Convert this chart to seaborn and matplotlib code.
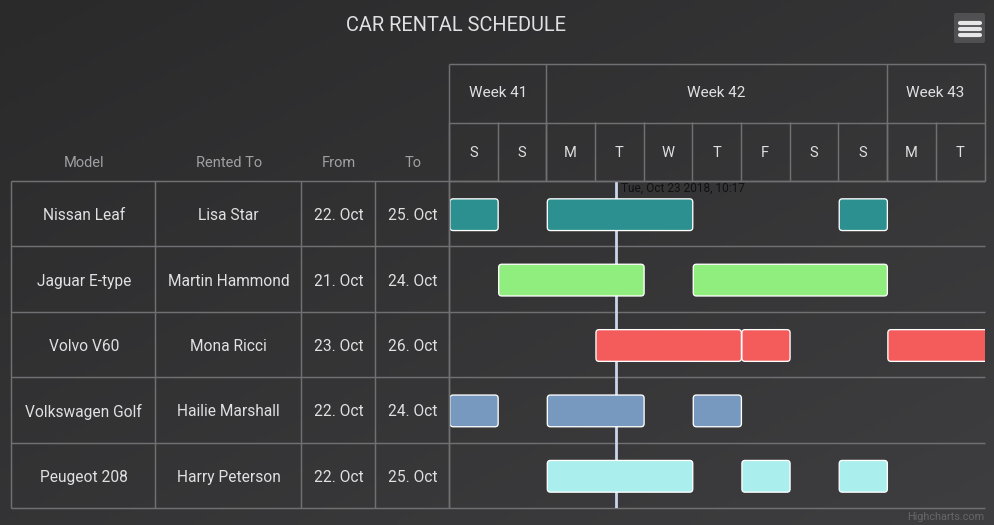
import numpy as np
import pandas as pd
import matplotlib
matplotlib.use("Agg")
import matplotlib.pyplot as plt
from matplotlib.patches import FancyBboxPatch, Rectangle
from matplotlib.colors import LinearSegmentedColormap
import seaborn as sns

models = ["Nissan Leaf", "Jaguar E-type", "Volvo V60", "Volkswagen Golf", "Peugeot 208"]
renters = ["Lisa Star", "Martin Hammond", "Mona Ricci", "Hailie Marshall", "Harry Peterson"]
from_dates = ["22. Oct", "21. Oct", "23. Oct", "22. Oct", "22. Oct"]
to_dates = ["25. Oct", "24. Oct", "26. Oct", "24. Oct", "25. Oct"]
colors = ["#2b908f", "#90ee7e", "#f45b5b", "#7798bf", "#aaeeee"]
headers = ["Model", "Rented To", "From", "To"]

task_row = [0, 0, 0, 1, 1, 2, 2, 2, 3, 3, 3, 4, 4, 4]
task_start = [20, 22, 28, 21, 25, 23, 26, 29, 20, 22, 25, 22, 26, 28]
task_end = [21, 25, 29, 24, 29, 26, 27, 32, 21, 24, 26, 25, 27, 29]

day_labels = ["S", "S", "M", "T", "W", "T", "F", "S", "S", "M", "T"]
week_labels = ["Week 41", "Week 42", "Week 43"]
week_edges = [20, 22, 29, 31]
today = 23 + (10 + 17 / 60) / 24
today_label = "Tue, Oct 23 2018, 10:17"

W, H = 995, 525
FONT = ["Roboto", "DejaVu Sans"]
GRID = "#707073"
TXT = "#e0e0e3"
HEAD = "#a0a0a3"
LW = 1.05
XMAX = 31.017

sns.set_theme(style="dark", rc={"axes.facecolor": "none", "figure.facecolor": "#333334"})
plt.rcParams["font.family"] = FONT

fig = plt.figure(figsize=(W / 100, H / 100), dpi=100)


def px_axes(x0, y0, x1, y1, **kw):
    a = fig.add_axes([x0 / W, 1 - y1 / H, (x1 - x0) / W, (y1 - y0) / H], **kw)
    a.patch.set_alpha(0)
    a.set_xticks([])
    a.set_yticks([])
    a.set_xlabel("")
    a.set_ylabel("")
    for s in a.spines.values():
        s.set_visible(False)
    return a


# background gradient
bg = px_axes(0, 0, W, H, zorder=-5)
gx, gy = np.meshgrid(np.linspace(0, 1, 200), np.linspace(0, 1, 120))
cmap = LinearSegmentedColormap.from_list("bg", ["#2a2a2b", "#3e3e40"])
bg.imshow((gx + gy) / 2, cmap=cmap, aspect="auto", vmin=0, vmax=1, extent=(0, W, H, 0))
bg.set_xlim(0, W)
bg.set_ylim(H, 0)
bg.set_xticks([])
bg.set_yticks([])
bg.grid(False)
bg.add_patch(FancyBboxPatch((954, 13), 31, 30, boxstyle="round,pad=0,rounding_size=2",
                            fc="#505053", ec="none"))
for yy in (22.5, 28.5, 34.5):
    bg.plot([960, 980], [yy, yy], color="#e6e6e6", lw=3.0, solid_capstyle="round")
bg.text(456.5, 25.5, "CAR RENTAL SCHEDULE", color=TXT, fontsize=14.4, ha="center", va="center")
bg.text(984, 517, "Highcharts.com", color="#666666", fontsize=7.8, ha="right", va="center")

# gantt body
ax = px_axes(449, 181, 985, 508)
df = pd.DataFrame({"row": task_row, "start": task_start, "end": task_end})
df["dur"] = df["end"] - df["start"]
for _, r in df.iterrows():
    sns.barplot(x=[r["dur"]], y=[r["row"]], left=r["start"], orient="h", native_scale=True,
                width=0.485, color=colors[int(r["row"])], saturation=1, ax=ax, zorder=3)
ax.set_xlim(20, XMAX)
ax.set_ylim(4.5, -0.5)
ax.set_xlabel("")
ax.set_ylabel("")
ax.set_xticks([])
ax.set_yticks([])
ax.grid(False)
asp = (5 / 327) / (XMAX - 20) * (536 / 1) / 1
asp = (5 / 327) / ((XMAX - 20) / 536)
dx = 0.5 * (XMAX - 20) / 536
dy = 1.0 * 5 / 327
for p in [q for q in ax.patches if isinstance(q, Rectangle)]:
    x, y, w, h = p.get_x(), p.get_y(), p.get_width(), p.get_height()
    fc = p.get_facecolor()
    p.remove()
    b = FancyBboxPatch((x + dx * 2, y + dy), w - dx, h, boxstyle="round,pad=0,rounding_size=0.065",
                       mutation_aspect=asp, fc=fc, ec="white", lw=0.95, zorder=3)
    ax.add_patch(b)
    b.set_clip_on(True)
    b.set_clip_box(ax.bbox)
ax.axvline(today, color="#ccd6eb", lw=2.0, zorder=2)
ax.text(today + 0.115, -0.385, today_label, color="#111111", fontsize=8.6, ha="left", va="center", zorder=5)
ax.hlines(np.arange(-0.5, 5), 20, XMAX, color=GRID, lw=LW, zorder=1, clip_on=False)
ax.vlines(20, -0.5, 4.5, color=GRID, lw=LW, zorder=1, clip_on=False)

# gantt header
hd = px_axes(449, 63.5, 985, 181, sharex=ax)
hd.set_ylim(2, 0)
hd.set_xticks([])
hd.set_yticks([])
hd.grid(False)
hd.hlines([0, 1.02, 2], 20, XMAX, color=GRID, lw=LW, clip_on=False)
hd.vlines(week_edges[:-1] + [XMAX], 0, 2, color=GRID, lw=LW, clip_on=False)
hd.vlines(np.arange(20, 31), 1, 2, color=GRID, lw=LW, clip_on=False)
for i, lab in enumerate(day_labels):
    hd.text(20.5 + i, 1.52, lab, color=TXT, fontsize=10.5, ha="center", va="center")
for i, lab in enumerate(week_labels):
    hd.text((week_edges[i] + week_edges[i + 1]) / 2, 0.5, lab, color=TXT, fontsize=11, ha="center", va="center")

# table
tb = px_axes(11, 181, 449, 508)
col_edges = [0, 144, 290, 364, 438]
tb.set_xlim(0, 438)
tb.set_ylim(4.5, -0.5)
tb.set_xticks([])
tb.set_yticks([])
tb.grid(False)
tb.hlines(np.arange(-0.5, 5), 0, 438, color=GRID, lw=LW, clip_on=False)
tb.vlines(col_edges, -0.5, 4.5, color=GRID, lw=LW, clip_on=False)
columns = [models, renters, from_dates, to_dates]
for c, vals in enumerate(columns):
    cx = (col_edges[c] + col_edges[c + 1]) / 2 + 0.7
    for r, v in enumerate(vals):
        tb.text(cx, r + 0.03, v, color=TXT, fontsize=11.2, ha="center", va="center")
    tb.text(cx, -0.77, headers[c], color=HEAD, fontsize=10.5, ha="center", va="center")

fig.savefig("out.png", dpi=100)
